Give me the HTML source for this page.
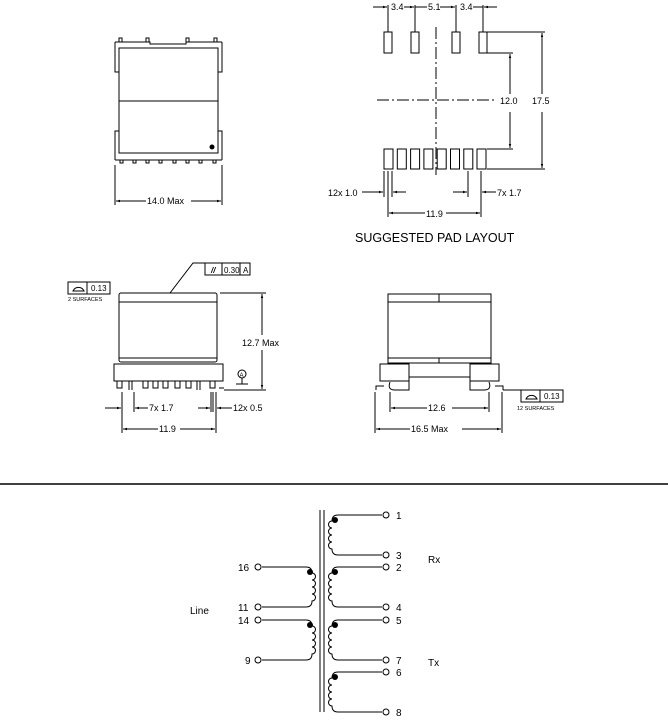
<!DOCTYPE html>
<html><head><meta charset="utf-8"><style>
html,body{margin:0;padding:0;background:#fff;}
svg{display:block;font-family:"Liberation Sans",sans-serif;}
</style></head><body>
<svg width="668" height="726" viewBox="0 0 668 726" xmlns="http://www.w3.org/2000/svg">
<defs>
<marker id="a" viewBox="0 0 10 10" refX="10" refY="5" markerWidth="6" markerHeight="4" orient="auto-start-reverse"><path d="M0,2 L10,5 L0,8z" fill="#000"/></marker>
</defs>
<g stroke="#000" stroke-width="1" fill="none">
<!-- Top view -->
<path d="M115,42 H150 V44 H186 V42 H222 M115,42 V72 H119 M222,42 V72 H218 M115,160 V131 H119 M222,160 V131 H218 M115,160 H222"/>
<rect x="119" y="48" width="99" height="105"/>
<line x1="119" y1="101" x2="218" y2="101"/>
<rect x="119" y="38" width="3" height="4"/><rect x="146" y="38" width="3" height="4"/><rect x="186" y="38" width="3" height="4"/><rect x="214" y="38" width="3" height="4"/>
<g>
<rect x="120" y="160" width="3" height="3"/><rect x="133" y="160" width="3" height="3"/><rect x="146" y="160" width="3" height="3"/><rect x="159" y="160" width="3" height="3"/><rect x="173" y="160" width="3" height="3"/><rect x="186" y="160" width="3" height="3"/><rect x="199" y="160" width="3" height="3"/><rect x="213" y="160" width="3" height="3"/>
</g>
<line x1="115" y1="165" x2="115" y2="205"/><line x1="222" y1="165" x2="222" y2="205"/>
<line x1="116" y1="201" x2="146" y2="201" marker-start="url(#a)"/><line x1="191" y1="201" x2="221" y2="201" marker-end="url(#a)"/>

<!-- Pad layout -->
<rect x="384" y="32" width="8" height="21"/><rect x="411" y="32" width="8" height="21"/><rect x="452" y="32" width="8" height="21"/><rect x="479" y="32" width="8" height="21"/>
<rect x="384" y="149" width="9" height="20"/><rect x="397.3" y="149" width="9" height="20"/><rect x="410.6" y="149" width="9" height="20"/><rect x="423.9" y="149" width="9" height="20"/><rect x="437.2" y="149" width="9" height="20"/><rect x="450.5" y="149" width="9" height="20"/><rect x="463.8" y="149" width="9" height="20"/><rect x="477" y="149" width="9" height="20"/>
<line x1="436" y1="27" x2="436" y2="175" stroke-dasharray="12,3,2,3"/>
<line x1="377" y1="100" x2="495" y2="100" stroke-dasharray="12,3,2,3"/>
<line x1="388" y1="5" x2="388" y2="32"/><line x1="415" y1="5" x2="415" y2="32"/><line x1="456" y1="5" x2="456" y2="32"/><line x1="483" y1="5" x2="483" y2="32"/>
<line x1="373" y1="7" x2="387" y2="7" marker-end="url(#a)"/>
<line x1="404" y1="7" x2="414" y2="7" marker-end="url(#a)"/><line x1="415" y1="7" x2="427" y2="7"/>
<line x1="440" y1="7" x2="455" y2="7" marker-end="url(#a)"/>
<line x1="497" y1="7" x2="484" y2="7" marker-end="url(#a)"/><line x1="473" y1="7" x2="483" y2="7"/>
<line x1="487" y1="32" x2="545" y2="32"/><line x1="487" y1="169" x2="545" y2="169"/>
<line x1="487" y1="53" x2="513" y2="53"/><line x1="487" y1="149" x2="513" y2="149"/>
<line x1="510" y1="94" x2="510" y2="54" marker-end="url(#a)"/><line x1="510" y1="112" x2="510" y2="148" marker-end="url(#a)"/>
<line x1="542" y1="94" x2="542" y2="33" marker-end="url(#a)"/><line x1="542" y1="112" x2="542" y2="168" marker-end="url(#a)"/>
<line x1="384" y1="171" x2="384" y2="197"/><line x1="388" y1="171" x2="388" y2="217"/><line x1="392" y1="171" x2="392" y2="197"/>
<line x1="468" y1="171" x2="468" y2="197"/><line x1="481" y1="171" x2="481" y2="217"/>
<line x1="362" y1="192" x2="383" y2="192" marker-end="url(#a)"/><line x1="406" y1="192" x2="393" y2="192" marker-end="url(#a)"/>
<line x1="453" y1="192" x2="467" y2="192" marker-end="url(#a)"/><line x1="496" y1="192" x2="482" y2="192" marker-end="url(#a)"/>
<line x1="389" y1="213" x2="425" y2="213" marker-start="url(#a)"/><line x1="446" y1="213" x2="480" y2="213" marker-end="url(#a)"/>

<!-- Side view 1 -->
<rect x="119" y="293" width="98" height="69" rx="2"/>
<line x1="119" y1="302" x2="217" y2="302"/><line x1="119" y1="358" x2="217" y2="358"/>
<rect x="114" y="364" width="109" height="17"/>
<path d="M117,381 V388 H122 V381 M129,381 V390 M132,381 V390 M143,381 V388 H148 V381 M153,381 V388 H158 V381 M163,381 V388 H168 V381 M175,381 V388 H180 V381 M186,381 V388 H191 V381 M197,381 V390 M200,381 V390 M210,381 V388 H215 V381 M219,388 H224"/>
<line x1="220" y1="293" x2="266" y2="293"/><line x1="224" y1="390" x2="266" y2="390"/>
<line x1="262" y1="335" x2="262" y2="294" marker-end="url(#a)"/><line x1="262" y1="350" x2="262" y2="389" marker-end="url(#a)"/>
<circle cx="242" cy="374" r="4"/><line x1="242" y1="378" x2="242" y2="384"/><line x1="236" y1="384" x2="248" y2="384"/>
<path d="M170,293 L193,263 H250 V275 H205 V263"/><line x1="222" y1="263" x2="222" y2="275"/><line x1="240" y1="263" x2="240" y2="275"/>
<rect x="68" y="282" width="42" height="12"/><line x1="87" y1="282" x2="87" y2="294"/>
<path d="M73,291 A6,6 0 0 1 84,291 Z"/>
<line x1="122" y1="392" x2="122" y2="433"/><line x1="134" y1="392" x2="134" y2="412"/>
<line x1="211" y1="392" x2="211" y2="412"/><line x1="213" y1="392" x2="213" y2="412"/><line x1="216" y1="392" x2="216" y2="433"/>
<line x1="105" y1="408" x2="121" y2="408" marker-end="url(#a)"/><line x1="148" y1="408" x2="135" y2="408" marker-end="url(#a)"/>
<line x1="198" y1="408" x2="210" y2="408" marker-end="url(#a)"/><line x1="232" y1="408" x2="217" y2="408" marker-end="url(#a)"/>
<line x1="123" y1="429" x2="158" y2="429" marker-start="url(#a)"/><line x1="180" y1="429" x2="215" y2="429" marker-end="url(#a)"/>

<!-- Side view 2 -->
<rect x="388" y="294" width="103" height="69"/>
<line x1="388" y1="302" x2="491" y2="302"/><line x1="388" y1="358" x2="491" y2="358"/>
<line x1="439" y1="294" x2="439" y2="302"/><line x1="439" y1="358" x2="439" y2="363"/>
<rect x="380" y="364" width="29" height="17"/><rect x="470" y="364" width="29" height="17"/>
<path d="M409,377 H470"/>
<path d="M376,390 V386 H384 M390,382 Q387,390 395,390 H409 V381 M470,381 V390 H484 Q492,390 489,382 M495,386 H503 V390"/>
<line x1="390" y1="392" x2="390" y2="412"/><line x1="489" y1="392" x2="489" y2="412"/>
<line x1="375" y1="392" x2="375" y2="433"/><line x1="502" y1="392" x2="502" y2="433"/>
<line x1="391" y1="408" x2="427" y2="408" marker-start="url(#a)"/><line x1="452" y1="408" x2="488" y2="408" marker-end="url(#a)"/>
<line x1="376" y1="429" x2="410" y2="429" marker-start="url(#a)"/><line x1="462" y1="429" x2="501" y2="429" marker-end="url(#a)"/>
<path d="M503,390 H521"/>
<rect x="521" y="390" width="42" height="12"/><line x1="540" y1="390" x2="540" y2="402"/>
<path d="M526,399 A6,6 0 0 1 537,399 Z"/>
</g>
<g fill="#000" font-size="9">
<circle cx="212" cy="147" r="2.5"/>
<text x="147" y="204">14.0 Max</text>
<text x="391" y="10">3.4</text><text x="428" y="10">5.1</text><text x="460" y="10">3.4</text>
<text x="500" y="104">12.0</text><text x="532" y="104">17.5</text>
<text x="328" y="196">12x 1.0</text><text x="497" y="196">7x 1.7</text>
<text x="426" y="217">11.9</text>
<text x="355" y="242" font-size="12.5">SUGGESTED PAD LAYOUT</text>
<text x="211" y="273" font-size="8" font-style="italic" font-weight="bold">//</text>
<text x="224" y="273" font-size="8">0.30</text><text x="243" y="273" font-size="8">A</text>
<text x="91" y="291" font-size="8">0.13</text>
<text x="68" y="301" font-size="5.5">2 SURFACES</text>
<text x="242" y="346">12.7 Max</text>
<text x="239.5" y="377" font-size="6">A</text>
<text x="149" y="411">7x 1.7</text><text x="233" y="411">12x 0.5</text>
<text x="159" y="432">11.9</text>
<text x="428" y="411">12.6</text><text x="411" y="432">16.5 Max</text>
<text x="544" y="399" font-size="8">0.13</text>
<text x="517" y="410" font-size="5.5">12 SURFACES</text>
</g>
<line x1="0" y1="484" x2="668" y2="484" stroke="#000" stroke-width="1.5"/>
<!-- schematic -->
<g stroke="#000" stroke-width="1" fill="none">
<line x1="320" y1="510" x2="320" y2="712"/><line x1="324" y1="510" x2="324" y2="712"/>
<path d="M382,515 H338 Q332,515 332,521 A3.5,3.5 0 0 0 332,528 A3.5,3.5 0 0 0 332,535 A3.5,3.5 0 0 0 332,542 A3.5,3.5 0 0 0 332,549 Q332,555 338,555 H382"/>
<path d="M382,567 H338 Q332,567 332,573 A3.5,3.5 0 0 0 332,580 A3.5,3.5 0 0 0 332,587 A3.5,3.5 0 0 0 332,594 A3.5,3.5 0 0 0 332,601 Q332,607 338,607 H382"/>
<path d="M382,620 H338 Q332,620 332,626 A3.5,3.5 0 0 0 332,633 A3.5,3.5 0 0 0 332,640 A3.5,3.5 0 0 0 332,647 A3.5,3.5 0 0 0 332,654 Q332,660 338,660 H382"/>
<path d="M382,672 H338 Q332,672 332,678 A3.5,3.5 0 0 0 332,685 A3.5,3.5 0 0 0 332,692 A3.5,3.5 0 0 0 332,699 A3.5,3.5 0 0 0 332,706 Q332,712 338,712 H382"/>
<path d="M262,567 H306 Q312,567 312,573 A3.5,3.5 0 0 1 312,580 A3.5,3.5 0 0 1 312,587 A3.5,3.5 0 0 1 312,594 A3.5,3.5 0 0 1 312,601 Q312,607 306,607 H262"/>
<path d="M262,620 H306 Q312,620 312,626 A3.5,3.5 0 0 1 312,633 A3.5,3.5 0 0 1 312,640 A3.5,3.5 0 0 1 312,647 A3.5,3.5 0 0 1 312,654 Q312,660 306,660 H262"/>
<circle cx="386" cy="515" r="3"/><circle cx="386" cy="555" r="3"/><circle cx="386" cy="567" r="3"/><circle cx="386" cy="607" r="3"/>
<circle cx="386" cy="620" r="3"/><circle cx="386" cy="660" r="3"/><circle cx="386" cy="672" r="3"/><circle cx="386" cy="712" r="3"/>
<circle cx="258" cy="567" r="3"/><circle cx="258" cy="607" r="3"/><circle cx="258" cy="620" r="3"/><circle cx="258" cy="660" r="3"/>
</g>
<g fill="#000" font-size="10">
<circle cx="335" cy="520" r="3"/><circle cx="335" cy="572" r="3"/><circle cx="335" cy="625" r="3"/><circle cx="335" cy="677" r="3"/>
<circle cx="310" cy="572" r="3"/><circle cx="310" cy="625" r="3"/>
<text x="396" y="519">1</text><text x="396" y="559">3</text><text x="396" y="571">2</text><text x="396" y="611">4</text>
<text x="396" y="624">5</text><text x="396" y="664">7</text><text x="396" y="676">6</text><text x="396" y="716">8</text>
<text x="238" y="571">16</text><text x="238" y="611">11</text><text x="238" y="624">14</text><text x="245" y="664">9</text>
<text x="428" y="563">Rx</text><text x="428" y="666">Tx</text><text x="190" y="614">Line</text>
</g>
</svg>
</body></html>
